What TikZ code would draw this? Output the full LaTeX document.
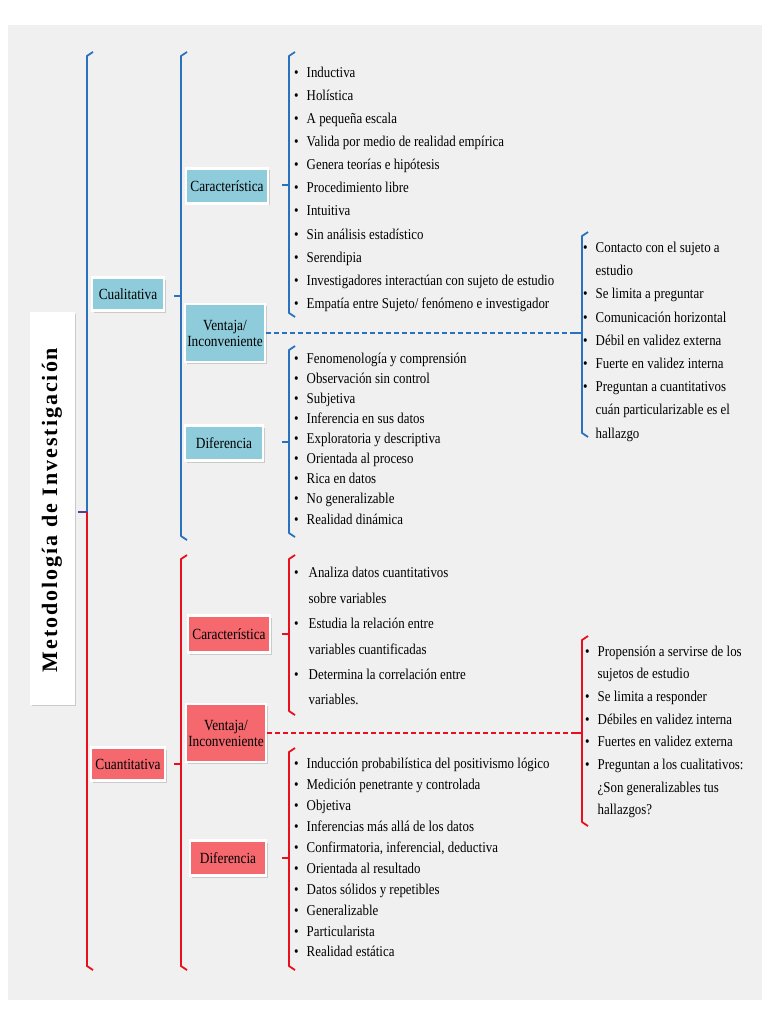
\documentclass[tikz,border=0pt]{standalone}
\usepackage{fontspec}
\setmainfont[FakeStretch=0.86]{Liberation Serif}
\newfontfamily\titlefont[LetterSpace=9]{Liberation Serif}
\usetikzlibrary{shadows,calc}
\definecolor{bg}{HTML}{F0F0F0}
\definecolor{bl}{HTML}{2A72C0}
\definecolor{rd}{HTML}{E8101C}
\definecolor{blfill}{HTML}{8ECCDC}
\definecolor{rdfill}{HTML}{F4686E}
\definecolor{pu}{HTML}{5A3C8C}
\newcommand{\brk}[5]{%
  \draw[#5,line width=1.8pt,line join=round] ($(#1+6,#2)$) -- (#1,#2+4) -- (#1,#3-4) -- (#1+6,#3);
  \draw[#5,line width=1.8pt] (#1,#4) -- (#1-7,#4);}
\tikzset{
  box/.style={draw=white,line width=2.5pt,inner sep=2pt,align=center,font=\fontsize{15.5}{16}\selectfont,
    drop shadow={shadow xshift=2pt,shadow yshift=-2pt,fill=black!35}},
  bbox/.style={box,fill=blfill},
  rbox/.style={box,fill=rdfill},
  lst/.style={anchor=north west,inner sep=0pt,align=left}
}
\newcommand{\bul}{\textbullet}
\begin{document}
\begin{tikzpicture}[x=1pt,y=-1pt]
\useasboundingbox (0,0) rectangle (768,1024);
\fill[white] (0,0) rectangle (768,1024);
\fill[bg] (8,25) rectangle (762,1000);
% title
\node[draw=white,fill=white,minimum width=44pt,minimum height=392pt,inner sep=0pt,
  drop shadow={shadow xshift=2pt,shadow yshift=-2pt,fill=black!35}] (title) at (52,508) {};
\node[rotate=90,font=\titlefont\fontsize{22}{24}\selectfont\bfseries] (titletext) at (52,510) {Metodología de Investigación};
% big bracket
\draw[bl,line width=1.8pt] (93,52) -- (87,56) -- (87,512);
\draw[rd,line width=1.8pt] (87,512) -- (87,966) -- (93,970);
\draw[pu,line width=1.8pt] (87,512) -- (78,512);
% level 1
\node[bbox,minimum width=72pt,minimum height=33pt] (cual) at (128,294) {Cualitativa};
\node[rbox,minimum width=74pt,minimum height=33pt] (cuan) at (128,764) {Cuantitativa};
\brk{181}{52}{540}{296}{bl}
\brk{181}{555}{970}{764}{rd}
% level 2 blue
\node[bbox,minimum width=82pt,minimum height=35pt] (bcar) at (227,186) {Característica};
\node[bbox,minimum width=80pt,minimum height=58pt] (bven) at (225,333) {Ventaja/\\Inconveniente};
\node[bbox,minimum width=78pt,minimum height=35pt] (bdif) at (224,443) {Diferencia};
% level 2 red
\node[rbox,minimum width=82pt,minimum height=37pt] (rcar) at (229,634) {Característica};
\node[rbox,minimum width=80pt,minimum height=58pt] (rven) at (226,733) {Ventaja/\\Inconveniente};
\node[rbox,minimum width=76pt,minimum height=35pt] (rdif) at (228,858) {Diferencia};
% brackets level 3
\brk{289}{52}{317}{185}{bl}
\brk{289}{346}{537}{442}{bl}
\brk{289}{555}{715}{634}{rd}
\brk{289}{748}{970}{858}{rd}
\brk{582}{232}{437}{333}{bl}
\brk{582}{636}{826}{733}{rd}
\coordinate (bend) at (575,333);
\coordinate (rend) at (575,733);
\draw[bl,line width=1.8pt,dash pattern=on 5pt off 3pt] (bven.east) -- (bend);
\draw[rd,line width=1.8pt,dash pattern=on 5pt off 3pt] (rven.east) -- (rend);
% lists
\node[lst] (l1) at (294,61) {\fontsize{15}{23.1}\selectfont\begin{tabular}{@{}l@{\hspace{8pt}}l@{}}
\bul & Inductiva\\ \bul & Holística\\ \bul & A pequeña escala\\ \bul & Valida por medio de realidad empírica\\
\bul & Genera teorías e hipótesis\\ \bul & Procedimiento libre\\ \bul & Intuitiva\\ \bul & Sin análisis estadístico\\
\bul & Serendipia\\ \bul & Investigadores interactúan con sujeto de estudio\\ \bul & Empatía entre Sujeto/ fenómeno e investigador
\end{tabular}};
\node[lst] (l2) at (294,349) {\fontsize{15}{20.1}\selectfont\begin{tabular}{@{}l@{\hspace{8pt}}l@{}}
\bul & Fenomenología y comprensión\\ \bul & Observación sin control\\ \bul & Subjetiva\\ \bul & Inferencia en sus datos\\
\bul & Exploratoria y descriptiva\\ \bul & Orientada al proceso\\ \bul & Rica en datos\\ \bul & No generalizable\\ \bul & Realidad dinámica
\end{tabular}};
\node[lst] (l3) at (583,236) {\fontsize{15}{23.2}\selectfont\begin{tabular}{@{}l@{\hspace{8pt}}l@{}}
\bul & Contacto con el sujeto a\\ & estudio\\ \bul & Se limita a preguntar\\ \bul & Comunicación horizontal\\
\bul & Débil en validez externa\\ \bul & Fuerte en validez interna\\ \bul & Preguntan a cuantitativos\\ & cuán particularizable es el\\ & hallazgo
\end{tabular}};
\node[lst] (l4) at (294,560) {\fontsize{15}{25.4}\selectfont\begin{tabular}{@{}l@{\hspace{10pt}}l@{}}
\bul & Analiza datos cuantitativos\\ & sobre variables\\ \bul & Estudia la relación entre\\ & variables cuantificadas\\
\bul & Determina la correlación entre\\ & variables.
\end{tabular}};
\node[lst] (l5) at (585,640) {\fontsize{15}{22.7}\selectfont\begin{tabular}{@{}l@{\hspace{8pt}}l@{}}
\bul & Propensión a servirse de los\\ & sujetos de estudio\\ \bul & Se limita a responder\\ \bul & Débiles en validez interna\\
\bul & Fuertes en validez externa\\ \bul & Preguntan a los cualitativos:\\ & ¿Son generalizables tus\\ & hallazgos?
\end{tabular}};
\node[lst] (l6) at (294,754) {\fontsize{15}{20.9}\selectfont\begin{tabular}{@{}l@{\hspace{8pt}}l@{}}
\bul & Inducción probabilística del positivismo lógico\\ \bul & Medición penetrante y controlada\\ \bul & Objetiva\\
\bul & Inferencias más allá de los datos\\ \bul & Confirmatoria, inferencial, deductiva\\ \bul & Orientada al resultado\\
\bul & Datos sólidos y repetibles\\ \bul & Generalizable\\ \bul & Particularista\\ \bul & Realidad estática
\end{tabular}};
\end{tikzpicture}
\end{document}
